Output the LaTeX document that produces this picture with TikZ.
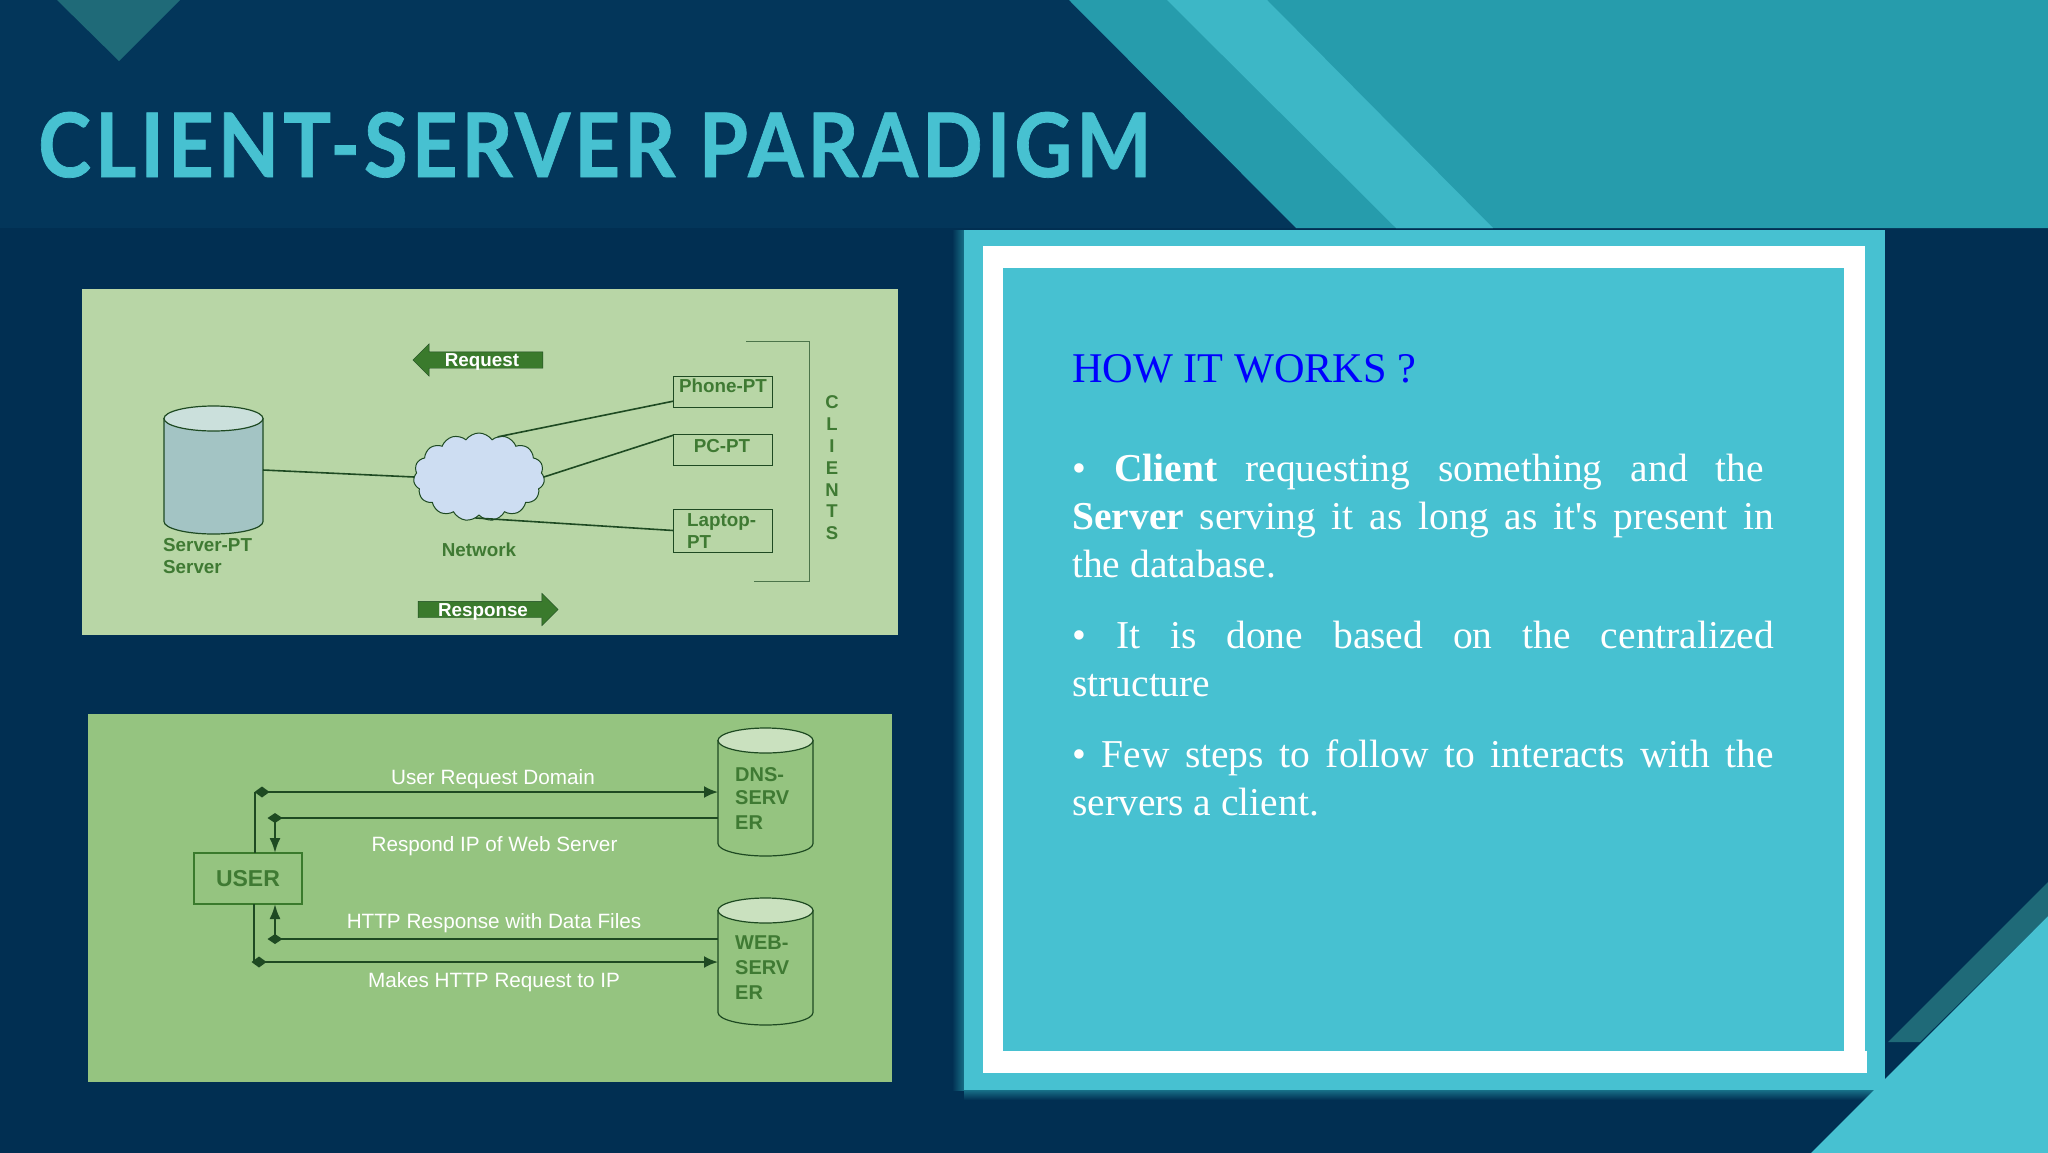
\documentclass[tikz,border=0pt]{standalone}
\usepackage{fontspec}
\setmainfont{Liberation Sans}
\newfontfamily\slideserif{Liberation Serif}
\newfontfamily\slidehead[LetterSpace=5,BoldFeatures={FakeBold=0.8}]{Lato}
\usepackage{xcolor}
\usetikzlibrary{positioning}
\usetikzlibrary{arrows.meta, shapes.symbols, shapes.arrows}

\definecolor{headbg}{HTML}{03365A}
\definecolor{bodybg}{HTML}{012F52}
\definecolor{aqua}{HTML}{47C1D1}
\definecolor{bannerteal}{HTML}{269CAC}
\definecolor{bandteal}{HTML}{3DB7C6}
\definecolor{dimteal}{HTML}{1F6A78}
\definecolor{paleleaf}{HTML}{B8D6A6}
\definecolor{midleaf}{HTML}{95C480}
\definecolor{leafink}{HTML}{3F7A33}
\definecolor{leafdark}{HTML}{3A7A2C}
\definecolor{wire}{HTML}{1E4A22}
\definecolor{drumblue}{HTML}{A3C4C4}
\definecolor{drumtop}{HTML}{CBE0DC}
\definecolor{cloudblue}{HTML}{CDDDF2}

% drum outline over a named node: node, body colour, end colour, half width
\newcommand{\drum}[4]{%
	\filldraw[draw=wire, line width=1.2pt, fill=#2]
		([yshift=-12.5pt]#1.north west) -- ([yshift=12.5pt]#1.south west)
		arc[start angle=180, end angle=360, x radius=#4pt, y radius=12.5pt]
		-- ([yshift=-12.5pt]#1.north east) -- cycle;
	\filldraw[draw=wire, line width=1.2pt, fill=#3]
		([yshift=-12.5pt]#1.north) ellipse [x radius=#4pt, y radius=12.5pt];
}

\begin{document}
\begin{tikzpicture}[
			x=1pt,
			y=-1pt,
			font=\fontsize{18.8}{22}\selectfont\bfseries,
			inktxt/.style={text=leafink, inner sep=0pt, align=left},
			flowtxt/.style={text=white, inner sep=0pt},
			msgtxt/.style={text=white, inner sep=0pt, font=\fontsize{20.7}{24}\selectfont},
			flowarrow/.style={
				single arrow,
				fill=leafdark,
				draw=wire,
				inner xsep=0pt,
				inner ysep=8pt,
				outer sep=0pt,
				minimum width=32pt,
				single arrow head extend=8pt
			},
			clientbox/.style={draw=wire, line width=0.9pt, inner sep=0pt, outer sep=0pt, minimum width=99.5pt},
			database/.style={inner sep=0pt, outer sep=0pt},
			wireline/.style={draw=wire, line width=1.6pt},
			msg/.style={draw=wire, line width=2.2pt},
			msgout/.style={msg, {Diamond[length=15pt,width=11pt]}-{Latex[length=14pt,width=12pt]}},
			msgin/.style={msg, {Latex[length=15pt,width=11pt]}-{Diamond[length=10pt,width=15pt]}},
			servertxt/.style={text=leafink, inner sep=0pt, anchor=west, font=\fontsize{20}{24}\selectfont\bfseries}
			]
			
			% -------------------------------
			% BACKGROUND
			% -------------------------------
			\useasboundingbox (0,0) rectangle (2048,1152);
			\fill[bodybg] (-4,-4) rectangle (2052,1156);
			\fill[headbg] (-4,-4) rectangle (2052,228);
			\fill[dimteal] (57,0) -- (180,0) -- (119,61) -- cycle;
			\fill[bannerteal] (1069,0) -- (2052,0) -- (2052,228) -- (1296,228) -- cycle;
			\fill[bandteal] (1167,0) -- (1267,0) -- (1493,228) -- (1396,228) -- cycle;
			\fill[dimteal] (2052,878) -- (2052,912) -- (1920,1042) -- (1888,1042) -- cycle;
			
			% -------------------------------
			% TITLE
			% -------------------------------
			\node[anchor=base west, inner sep=0pt, text=aqua] (title) at (38,177)
				{\resizebox{1113pt}{65pt}{\slidehead\bfseries CLIENT-SERVER PARADIGM}};
			
			% -------------------------------
			% TEXT PANEL
			% -------------------------------
			\fill[left color=bodybg, right color=bannerteal!60!bodybg] (952,230) rectangle (964,1090);
			\fill[top color=bannerteal!60!bodybg, bottom color=bodybg] (964,1090) rectangle (1885,1100);
			\fill[aqua] (964,230) rectangle (1885,1090);
			\fill[white] (983,246) rectangle (1865,1051);
			\fill[white] (983,1051) rectangle (1867,1073);
			\fill[aqua] (1003,268) rectangle (1844,1051);
			\fill[aqua] (2052,912) -- (2052,1156) -- (1808,1156) -- cycle;
			
			\node[anchor=base west, inner sep=0pt, text=blue, font=\slideserif\fontsize{42.3}{48}\selectfont] (howtitle) at (1072,382) {HOW IT WORKS ?};
			\node[anchor=north west, inner sep=0pt, text=white, text width=702pt, align=justify,
				font=\slideserif\fontsize{39.5}{48}\selectfont] (howbody) at (1072,454) {%
				\setlength{\parskip}{23pt}%
				• \textbf{Client} requesting something and the\hspace{10pt}\kern0pt\linebreak
				\textbf{Server} serving it as long as it's present in\linebreak
				the database.\par
				• It is done based on the centralized\linebreak
				structure\par
				• Few steps to follow to interacts with the\linebreak
				servers a client.\par};
			
			% -------------------------------
			% CLIENT SERVER FIGURE
			% -------------------------------
			\fill[paleleaf] (82,289) rectangle (898,635);
			
			\node[database, minimum width=99pt, minimum height=128pt] (server) at (213.5,470) {};
			\drum{server}{drumblue}{drumtop}{49.5}
			\node[inktxt, anchor=north west] (serverlbl) at (163,538) {Server-PT\\Server};
			
			\node[cloud, draw=wire, line width=1pt, fill=cloudblue, cloud puffs=15, cloud puff arc=110, aspect=1.5,
				inner sep=0pt, outer sep=0pt, minimum width=131pt, minimum height=88pt] (net) at (479,477) {};
			\node[inktxt, below=28pt of net] (netlbl) {Network};
			
			\node[clientbox, minimum height=31pt] (phone) at (723,391.5) {};
			\node[clientbox, minimum height=31pt] (pc) at (723,449.5) {};
			\node[clientbox, minimum height=43pt] (laptop) at (723,530.5) {};
			\node[inktxt] (phonelbl) at (723,386) {Phone-PT};
			\node[inktxt] (pclbl) at (722,446) {PC-PT};
			\node[inktxt, anchor=west] (laptoplbl) at (687,531) {Laptop-\\PT};
			
			\draw[wireline] (server.0) -- (net.west);
			\draw[wireline] (net.65) -- (phone.191);
			\draw[wireline] (net.east) -- (pc.164);
			\draw[wireline] (net.265) -- (laptop.west);
			
			\coordinate (brtop) at (746,341);
			\coordinate (brbot) at (754,581);
			\draw[wire!70!paleleaf, line width=1pt] (brtop) -- (809.5,341) -- (809.5,581) -- (brbot);
			\node[inktxt, align=center, font=\fontsize{18.5}{21.8}\selectfont\bfseries] (clientslbl) at (832,468) {C\\L\\I\\E\\N\\T\\S};
			
			\node[flowarrow, shape border rotate=180, minimum height=130pt] (reqarrow) at (482,360) {};
			\node[flowtxt] (reqlbl) at (482,362) {Request};
			\node[flowarrow, minimum height=140pt] (resarrow) at (484,609.5) {};
			\node[flowtxt] (reslbl) at (483,612) {Response};
			
			% -------------------------------
			% DNS WEB FIGURE
			% -------------------------------
			\fill[midleaf] (88,714) rectangle (891.5,1082);
			
			\node[database, minimum width=95pt, minimum height=128pt] (dns) at (765.5,792) {};
			\node[database, minimum width=95pt, minimum height=127pt] (web) at (765.5,961.5) {};
			\drum{dns}{midleaf}{midleaf!50!white}{47.5}
			\drum{web}{midleaf}{midleaf!50!white}{47.5}
			\node[servertxt] (dnsa) at (735,775) {DNS-};
			\node[servertxt] (dnsb) at (735,798) {SERV};
			\node[servertxt] (dnsc) at (735,823) {ER};
			\node[servertxt] (weba) at (735,943) {WEB-};
			\node[servertxt] (webb) at (735,968) {SERV};
			\node[servertxt] (webc) at (735,993) {ER};
			
			\node[draw=leafdark, line width=1.8pt, inner sep=0pt, outer sep=0pt, minimum width=108pt, minimum height=51pt,
				text=leafink, font=\fontsize{23}{28}\selectfont\bfseries] (user) at (248,878.5) {USER};
			
			\coordinate (dnsout) at (254.5,792);
			\coordinate (dnsback) at (275,818);
			\coordinate (webback) at (275,939);
			\coordinate (webout) at (251.5,962);
			
			\draw[msg] ([xshift=7pt]user.north) -- ([xshift=7pt]user.north |- dnsout);
			\draw[msgout] (dnsout) -- (dnsout -| dns.west);
			\draw[msgin] (dnsback |- user.north) -- ([yshift=5pt]dnsback);
			\draw[msg] (dnsback) -- (dnsback -| dns.west);
			\draw[msgin] (webback |- user.south) -- ([yshift=-5pt]webback);
			\draw[msg] (webback) -- (webback -| web.west);
			\draw[msg] ([xshift=6pt]user.south) -- ([xshift=6pt]user.south |- webout);
			\draw[msgout] (webout) -- (webout -| web.west);
			
			\node[msgtxt] (reqdomain) at (493,779) {User Request Domain};
			\node[msgtxt] (respip) at (494.5,846) {Respond IP of Web Server};
			\node[msgtxt] (respfiles) at (494,923) {HTTP Response with Data Files};
			\node[msgtxt] (reqip) at (494,982) {Makes HTTP Request to IP};
			
		\end{tikzpicture}
\end{document}
